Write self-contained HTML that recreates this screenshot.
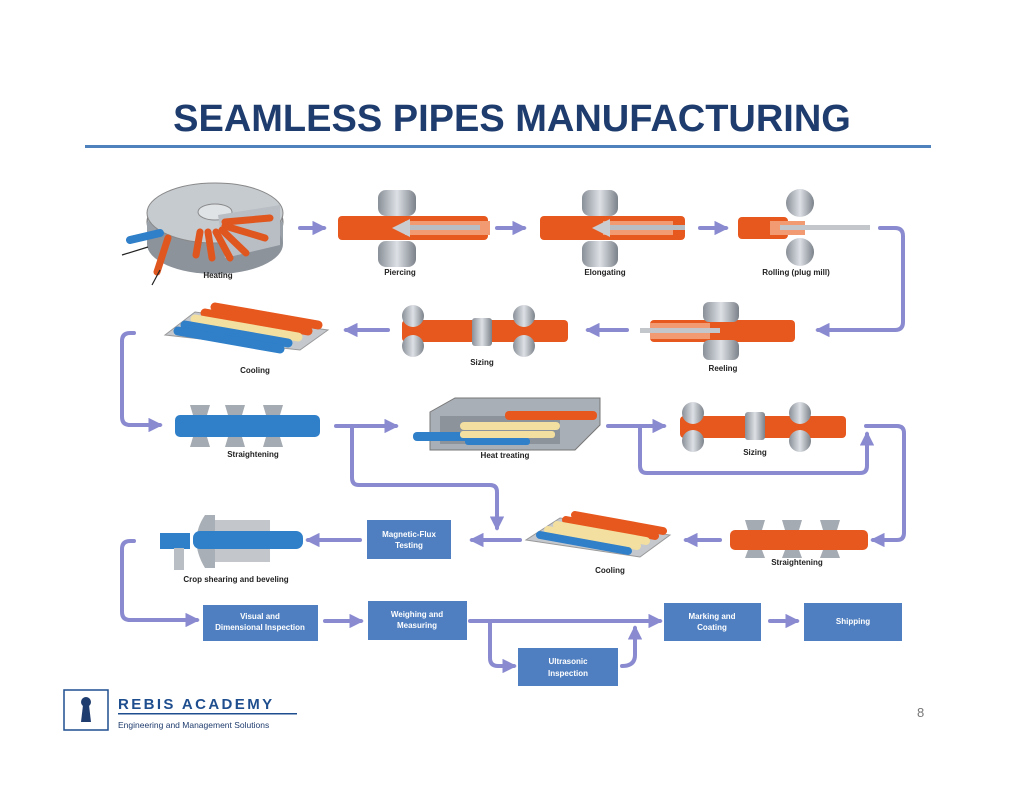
<!DOCTYPE html>
<html><head><meta charset="utf-8"><style>
html,body{margin:0;padding:0;background:#fff;}
svg{display:block}
</style></head><body>
<svg width="1024" height="792" viewBox="0 0 1024 792" xmlns="http://www.w3.org/2000/svg" font-family="Liberation Sans, sans-serif">
<defs>
<marker id="ah" viewBox="0 0 10 10" refX="8" refY="5" markerWidth="3.6" markerHeight="3.6" orient="auto"><path d="M0,0 L10,5 L0,10 z" fill="#8a8ad0"/></marker>
<linearGradient id="roll" x1="0" x2="1"><stop offset="0" stop-color="#8a9098"/><stop offset=".5" stop-color="#dde1e6"/><stop offset="1" stop-color="#7c828a"/></linearGradient>
</defs>
<text x="512" y="131" text-anchor="middle" font-family="Liberation Sans, sans-serif" font-weight="bold" font-size="38" fill="#1f3c6e">SEAMLESS PIPES MANUFACTURING</text>
<rect x="85" y="145" width="846" height="3" fill="#4f81bd"/>

<g fill="none" stroke="#8a8ad0" stroke-width="4" stroke-linecap="round" stroke-linejoin="round">
<path d="M300,228 H324" marker-end="url(#ah)"/>
<path d="M497,228 H524" marker-end="url(#ah)"/>
<path d="M700,228 H726" marker-end="url(#ah)"/>
<path d="M880,228 H895 Q903,228 903,236 V322 Q903,330 895,330 H818" marker-end="url(#ah)"/>
<path d="M627,330 H588" marker-end="url(#ah)"/>
<path d="M388,330 H346" marker-end="url(#ah)"/>
<path d="M134,333 H130 Q122,333 122,341 V417 Q122,425 130,425 H160" marker-end="url(#ah)"/>
<path d="M336,426 H396" marker-end="url(#ah)"/>
<path d="M352,426 V478 Q352,485 359,485 H490 Q497,485 497,492 V528" marker-end="url(#ah)"/>
<path d="M608,426 H664" marker-end="url(#ah)"/>
<path d="M640,426 V466 Q640,473 647,473 H860 Q867,473 867,466 V434" marker-end="url(#ah)"/>
<path d="M866,426 H897 Q904,426 904,433 V533 Q904,540 897,540 H873" marker-end="url(#ah)"/>
<path d="M720,540 H686" marker-end="url(#ah)"/>
<path d="M520,540 H472" marker-end="url(#ah)"/>
<path d="M360,540 H308" marker-end="url(#ah)"/>
<path d="M134,541 H130 Q122,541 122,549 V612 Q122,620 130,620 H197" marker-end="url(#ah)"/>
<path d="M325,621 H361" marker-end="url(#ah)"/>
<path d="M470,621 H660" marker-end="url(#ah)"/>
<path d="M770,621 H797" marker-end="url(#ah)"/>
<path d="M490,621 V658 Q490,666 498,666 H514" marker-end="url(#ah)"/>
<path d="M622,666 Q635,666 635,655 V628" marker-end="url(#ah)"/>
</g>

<g>
<ellipse cx="215" cy="222" rx="68" ry="33" fill="#a9afb6" stroke="#777" />
<rect x="147" y="222" width="136" height="22" fill="#9aa0a8"/>
<ellipse cx="215" cy="244" rx="68" ry="30" fill="#8d939b"/>
<ellipse cx="215" cy="213" rx="68" ry="30" fill="#c6cbd0" stroke="#888"/>
<ellipse cx="215" cy="212" rx="17" ry="8" fill="#e0e3e6" stroke="#888"/>
<path d="M218,215 L280,205 L280,245 L225,258 Z" fill="#b9bec4"/>
<g stroke="#e0561f" stroke-width="7" stroke-linecap="round">
<line x1="225" y1="222" x2="270" y2="218"/><line x1="225" y1="226" x2="265" y2="238"/><line x1="222" y1="230" x2="246" y2="253"/><line x1="216" y1="232" x2="230" y2="258"/><line x1="208" y1="232" x2="212" y2="258"/><line x1="200" y1="232" x2="196" y2="255"/>
<line x1="168" y1="238" x2="157" y2="272"/>
</g>
<line x1="160" y1="233" x2="130" y2="240" stroke="#2f7fc9" stroke-width="8" stroke-linecap="round"/>
<line x1="122" y1="255" x2="148" y2="247" stroke="#222" stroke-width="1.2"/>
<line x1="160" y1="270" x2="152" y2="285" stroke="#222" stroke-width="1.2"/>
</g>
<text x="218" y="278" font-size="8" text-anchor="middle" fill="#222" font-weight="bold">Heating</text>

<g>
<rect x="338" y="216" width="150" height="24" rx="4" fill="#e7581e"/>
<rect x="405" y="221" width="85" height="14" fill="#f29a72"/>
<rect x="400" y="225" width="80" height="5" fill="#b9bec4"/>
<path d="M392,228 L410,219 L410,237 Z" fill="#c9cdd2"/>
<rect x="378" y="190" width="38" height="26" rx="8" fill="url(#roll)"/>
<rect x="378" y="241" width="38" height="26" rx="8" fill="url(#roll)"/>
</g>
<text x="400" y="275" font-size="8" text-anchor="middle" font-weight="bold" fill="#222">Piercing</text>
<g>
<rect x="540" y="216" width="145" height="24" rx="4" fill="#e7581e"/>
<rect x="603" y="221" width="70" height="14" fill="#f29a72"/>
<rect x="600" y="225" width="85" height="5" fill="#b9bec4"/>
<path d="M592,228 L610,219 L610,237 Z" fill="#c9cdd2"/>
<rect x="582" y="190" width="36" height="26" rx="8" fill="url(#roll)"/>
<rect x="582" y="241" width="36" height="26" rx="8" fill="url(#roll)"/>
</g>
<text x="605" y="275" font-size="8" text-anchor="middle" font-weight="bold" fill="#222">Elongating</text>
<g>
<rect x="738" y="217" width="50" height="22" rx="4" fill="#e7581e"/>
<rect x="770" y="221" width="35" height="14" fill="#f29a72"/>
<rect x="780" y="225" width="90" height="5" fill="#c3c7cc"/>
<circle cx="800" cy="203" r="14" fill="url(#roll)"/>
<circle cx="800" cy="252" r="14" fill="url(#roll)"/>
</g>
<text x="796" y="275" font-size="8" text-anchor="middle" font-weight="bold" fill="#222">Rolling (plug mill)</text>

<g>
<rect x="650" y="320" width="145" height="22" rx="4" fill="#e7581e"/>
<rect x="650" y="323" width="60" height="16" fill="#f29a72"/>
<rect x="640" y="328" width="80" height="5" fill="#c3c7cc"/>
<rect x="703" y="302" width="36" height="20" rx="6" fill="url(#roll)"/>
<rect x="703" y="340" width="36" height="20" rx="6" fill="url(#roll)"/>
</g>
<text x="723" y="371" font-size="8" text-anchor="middle" font-weight="bold" fill="#222">Reeling</text>
<g>
<rect x="402" y="320" width="166" height="22" rx="4" fill="#e7581e"/>
<circle cx="413" cy="316" r="11" fill="url(#roll)"/><circle cx="413" cy="346" r="11" fill="url(#roll)"/>
<circle cx="524" cy="316" r="11" fill="url(#roll)"/><circle cx="524" cy="346" r="11" fill="url(#roll)"/>
<rect x="472" y="318" width="20" height="28" rx="3" fill="url(#roll)"/>
</g>
<text x="482" y="365" font-size="8" text-anchor="middle" font-weight="bold" fill="#222">Sizing</text>
<g>
<path d="M165,335 L300,350 L328,330 L195,312 Z" fill="#c5c9ce" stroke="#999"/>
<g stroke-width="9" stroke-linecap="round">
<line x1="215" y1="307" x2="318" y2="325" stroke="#e7581e"/>
<line x1="205" y1="313" x2="308" y2="331" stroke="#e7581e"/>
<line x1="195" y1="319" x2="298" y2="337" stroke="#f3e0a0"/>
<line x1="185" y1="325" x2="288" y2="343" stroke="#2f7fc9"/>
<line x1="178" y1="331" x2="280" y2="349" stroke="#2f7fc9"/>
</g>
</g>
<text x="255" y="373" font-size="8" text-anchor="middle" font-weight="bold" fill="#222">Cooling</text>

<g>
<rect x="175" y="415" width="145" height="22" rx="5" fill="#2f7fc9"/>
<g fill="#a5abb2">
<path d="M190,405 h20 l-3,10 h-14z"/><path d="M225,405 h20 l-3,10 h-14z"/><path d="M263,405 h20 l-3,10 h-14z"/>
<path d="M193,437 h14 l3,10 h-20z"/><path d="M228,437 h14 l3,10 h-20z"/><path d="M266,437 h14 l3,10 h-20z"/>
</g>
</g>
<text x="253" y="457" font-size="8" text-anchor="middle" font-weight="bold" fill="#222">Straightening</text>
<g>
<path d="M430,412 L455,398 L600,398 L600,425 L575,450 L430,450 Z" fill="#a9afb6" stroke="#777"/>
<rect x="440" y="416" width="120" height="28" fill="#8d939b"/>
<rect x="413" y="432" width="60" height="9" rx="4" fill="#2f7fc9"/>
<rect x="460" y="422" width="100" height="8" rx="4" fill="#f3e0a0"/>
<rect x="460" y="431" width="95" height="7" rx="3" fill="#f3e0a0"/>
<rect x="465" y="438" width="65" height="7" rx="3" fill="#2f7fc9"/>
<rect x="505" y="411" width="92" height="9" rx="4" fill="#e7581e"/>
</g>
<text x="505" y="458" font-size="8" text-anchor="middle" font-weight="bold" fill="#222">Heat treating</text>
<g>
<rect x="680" y="416" width="166" height="22" rx="4" fill="#e7581e"/>
<circle cx="693" cy="413" r="11" fill="url(#roll)"/><circle cx="693" cy="441" r="11" fill="url(#roll)"/>
<circle cx="800" cy="413" r="11" fill="url(#roll)"/><circle cx="800" cy="441" r="11" fill="url(#roll)"/>
<rect x="745" y="412" width="20" height="28" rx="3" fill="url(#roll)"/>
</g>
<text x="755" y="455" font-size="8" text-anchor="middle" font-weight="bold" fill="#222">Sizing</text>

<g>
<rect x="730" y="530" width="138" height="20" rx="5" fill="#e7581e"/>
<g fill="#a5abb2">
<path d="M745,520 h20 l-3,10 h-14z"/><path d="M782,520 h20 l-3,10 h-14z"/><path d="M820,520 h20 l-3,10 h-14z"/>
<path d="M748,550 h14 l3,8 h-20z"/><path d="M785,550 h14 l3,8 h-20z"/><path d="M823,550 h14 l3,8 h-20z"/>
</g>
</g>
<text x="797" y="565" font-size="8" text-anchor="middle" font-weight="bold" fill="#222">Straightening</text>
<g>
<path d="M526,540 L640,557 L670,535 L560,518 Z" fill="#c5c9ce" stroke="#999"/>
<g stroke-width="8" stroke-linecap="round">
<line x1="575" y1="515" x2="663" y2="531" stroke="#e7581e"/>
<line x1="566" y1="520" x2="655" y2="536" stroke="#e7581e"/>
<line x1="557" y1="525" x2="646" y2="541" stroke="#f3e0a0"/>
<line x1="548" y1="530" x2="637" y2="546" stroke="#f3e0a0"/>
<line x1="540" y1="535" x2="628" y2="551" stroke="#2f7fc9"/>
</g>
</g>
<text x="610" y="573" font-size="8" text-anchor="middle" font-weight="bold" fill="#222">Cooling</text>
<g>
<path d="M205,515 Q188,540 205,568 L215,568 L215,515 Z" fill="#a9afb6"/>
<rect x="215" y="520" width="55" height="14" fill="#c3c7cc"/>
<rect x="215" y="548" width="55" height="14" fill="#c3c7cc"/>
<rect x="160" y="533" width="30" height="16" fill="#2f7fc9"/>
<rect x="193" y="531" width="110" height="18" rx="7" fill="#2f7fc9"/>
<rect x="174" y="548" width="10" height="22" fill="#b9bec4"/>
</g>
<text x="236" y="582" font-size="8" text-anchor="middle" font-weight="bold" fill="#222">Crop shearing and beveling</text>

<g fill="#4f7fc0">
<rect x="367" y="520" width="84" height="39"/>
<rect x="203" y="605" width="115" height="36"/>
<rect x="368" y="601" width="99" height="39"/>
<rect x="664" y="603" width="97" height="38"/>
<rect x="804" y="603" width="98" height="38"/>
<rect x="518" y="648" width="100" height="38"/>
</g>
<g fill="#fff" font-size="8" font-weight="bold" text-anchor="middle">
<text x="409" y="537">Magnetic-Flux</text><text x="409" y="548">Testing</text>
<text x="260" y="619">Visual and</text><text x="260" y="630">Dimensional Inspection</text>
<text x="417" y="617">Weighing and</text><text x="417" y="628">Measuring</text>
<text x="712" y="619">Marking and</text><text x="712" y="630">Coating</text>
<text x="853" y="624">Shipping</text>
<text x="568" y="664">Ultrasonic</text><text x="568" y="676">Inspection</text>
</g>

<rect x="64" y="690" width="44" height="40" fill="#fff" stroke="#1f4e8f" stroke-width="1.5"/>
<circle cx="86" cy="702" r="5" fill="#1f3c6e"/>
<path d="M83,705 L89,705 L91,722 L81,722 Z" fill="#1f3c6e"/>
<text x="118" y="709" font-size="15" font-weight="bold" fill="#1f4e8f" letter-spacing="2.4">REBIS ACADEMY</text>
<rect x="118" y="713" width="179" height="1.5" fill="#1f4e8f"/>
<text x="118" y="728" font-size="8.5" fill="#1f3c6e">Engineering and Management Solutions</text>
<text x="917" y="717" font-size="13" fill="#777">8</text>
</svg>
</body></html>
